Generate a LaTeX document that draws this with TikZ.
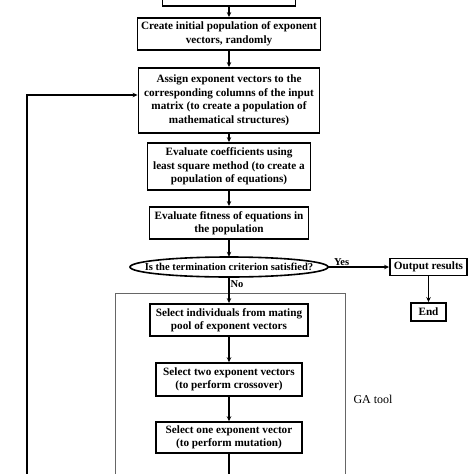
\documentclass[tikz,border=0pt]{standalone}
\usepackage{fontspec}
\setmainfont{Liberation Serif}
\usetikzlibrary{arrows.meta}
\tikzset{
 stepbox/.style={draw,line width=1.9pt,align=center,inner sep=1pt,
  font=\bfseries\fontsize{11.2}{13.5}\selectfont},
 flow/.style={line width=1.3pt,-{Stealth[length=5pt,width=4.5pt]}},
 tag/.style={font=\bfseries\fontsize{10.5}{12}\selectfont,inner sep=1pt},
}
\begin{document}
\begin{tikzpicture}[x=1pt,y=-1pt]
\useasboundingbox (0,0) rectangle (474,474);
\clip (0,0) rectangle (474,474);
\node[stepbox,minimum width=133pt,minimum height=30pt] (start) at (229,-9) {};
\node[stepbox,minimum width=183pt,minimum height=32pt] (create) at (229,34)
 {Create initial population of exponent\\vectors, randomly};
\node[stepbox,minimum width=181pt,minimum height=65pt] (assign) at (229,100.5)
 {Assign exponent vectors to the\\corresponding columns of the input\\matrix (to create a population of\\mathematical structures)};
\node[stepbox,minimum width=163pt,minimum height=47pt] (coeff) at (229,166.5)
 {Evaluate coefficients using\\least square method (to create a\\population of equations)};
\node[stepbox,minimum width=159pt,minimum height=32pt] (fitness) at (229,223)
 {Evaluate fitness of equations in\\the population};
\node[minimum width=198pt,minimum height=20pt,inner sep=0pt,
 font=\bfseries\fontsize{10.6}{13}\selectfont] (term) at (229,267)
 {Is the termination criterion satisfied?};
\draw[line width=1.6pt] (term.center) ellipse (99 and 10);
\node[stepbox,minimum width=77pt,minimum height=17pt] (output) at (428.5,267) {Output results};
\node[stepbox,minimum width=35pt,minimum height=18pt] (end) at (428.5,312) {End};
% GA tool
\draw[black!60,line width=1pt] (115,293) rectangle (345,490);
\node[font=\fontsize{12}{14}\selectfont] (galabel) at (373,399) {GA tool};
\node[stepbox,minimum width=158pt,minimum height=32pt] (mating) at (229,320)
 {Select individuals from mating\\pool of exponent vectors};
\node[stepbox,minimum width=146pt,minimum height=33pt,line width=1.5pt] (cross) at (229,379.5)
 {Select two exponent vectors\\(to perform crossover)};
\node[stepbox,minimum width=146pt,minimum height=31pt,line width=1.5pt] (mutate) at (229,437.5)
 {Select one exponent vector\\(to perform mutation)};
\draw[flow] (start) -- (create);
\draw[flow] (create) -- (assign);
\draw[flow] (assign) -- (coeff);
\draw[flow] (coeff) -- (fitness);
\draw[flow] (fitness) -- (term);
\draw[flow] (term) -- node[tag,above,pos=0.22]{Yes} (output);
\draw[flow] (output) -- (end);
\draw[flow] (term) -- node[tag,right,pos=0.25]{No} (mating);
\draw[flow] (mating) -- (cross);
\draw[flow] (cross) -- (mutate);
% back to assign
\coordinate (loopdown) at (229,490);
\coordinate (loopleft) at (27,490);
\draw[line width=1.3pt] (mutate) -- (loopdown) -- (loopleft);
\draw[flow] (loopleft) |- ([yshift=5.5pt]assign.west);
\end{tikzpicture}
\end{document}
